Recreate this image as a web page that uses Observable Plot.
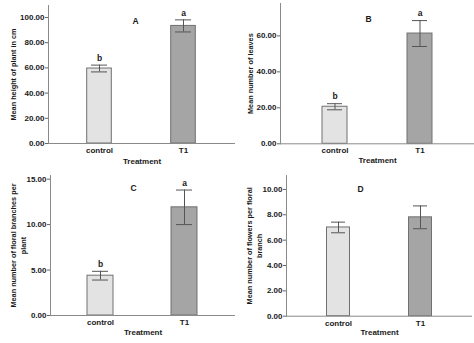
<!DOCTYPE html>
<html>
<head>
<meta charset="utf-8">
<script src="https://cdn.jsdelivr.net/npm/d3@7"></script>
<script src="https://cdn.jsdelivr.net/npm/@observablehq/plot@0.6"></script>
<style>
  body { margin: 0; background: #fff; }
  #wrap { position: relative; width: 474px; height: 343px; background: #fff; overflow: hidden; }
  .panel { position: absolute; }
  .sep { position: absolute; left: 238px; top: 172px; width: 236px; height: 0; border-top: 1px solid #d4d4d4; }
</style>
</head>
<body>
<div id="wrap"><div class="sep"></div></div>
<script>
// ---- data ----
const categories = ["control", "T1"];

const heightMean = [59.5, 93.3];
const heightSE = [2.7, 4.8];
const heightLetters = ["b", "a"];
const heightTicks = [0, 20, 40, 60, 80, 100];

const leavesMean = [20.6, 61.3];
const leavesSE = [1.7, 7.2];
const leavesLetters = ["b", "a"];
const leavesTicks = [0, 20, 40, 60];

const branchesMean = [4.38, 11.9];
const branchesSE = [0.48, 1.9];
const branchesLetters = ["b", "a"];
const branchesTicks = [0, 5, 10, 15];

const flowersMean = [7.0, 7.8];
const flowersSE = [0.42, 0.9];
const flowersLetters = ["", ""];
const flowersTicks = [0, 2, 4, 6, 8, 10];

const fills = ["#e3e3e3", "#a5a5a5"];

function panel(cfg) {
  const data = categories.map((c, i) => ({
    cat: c, mean: cfg.mean[i], lo: cfg.mean[i] - cfg.se[i], hi: cfg.mean[i] + cfg.se[i],
    letter: cfg.letters[i], fill: fills[i]
  }));
  const plot = Plot.plot({
    width: cfg.width, height: cfg.height,
    marginLeft: cfg.ml, marginRight: cfg.mr, marginTop: cfg.mt, marginBottom: cfg.mb,
    style: { fontFamily: "'Liberation Sans', Arial, sans-serif", fontSize: "8px", fontWeight: "bold", color: "#1a1a1a", background: "#fff" },
    x: { domain: categories, padding: cfg.pad, label: null },
    y: { domain: [0, cfg.max], label: null },
    marks: [
      Plot.barY(data, { x: "cat", y: "mean", fill: "fill", stroke: "#707070", strokeWidth: 1, insetLeft: cfg.inset, insetRight: cfg.inset }),
      Plot.ruleX(data, { x: "cat", y1: "lo", y2: "hi", stroke: "#555", strokeWidth: 1 }),
      Plot.tickY(data, { x: "cat", y: "lo", stroke: "#555", strokeWidth: 1, insetLeft: cfg.cap, insetRight: cfg.cap }),
      Plot.tickY(data, { x: "cat", y: "hi", stroke: "#555", strokeWidth: 1, insetLeft: cfg.cap, insetRight: cfg.cap }),
      Plot.text(data, { x: "cat", y: "hi", text: "letter", dy: -7, fontSize: 8.5, fontWeight: "bold", fill: "#1a1a1a" }),
      Plot.ruleY([0], { stroke: "#8a8a8a" }),
      Plot.frame({ anchor: "left", stroke: "#8a8a8a" }),
      Plot.axisY({ ticks: cfg.ticks, tickFormat: d3.format(".2f"), tickSize: 3, tickPadding: 1, stroke: "#666", fill: "#1a1a1a" }),
      Plot.axisX({ tickSize: 0, tickPadding: 4, fill: "#1a1a1a", label: null }),
      Plot.text([cfg.panelLabel], { frameAnchor: "top", dx: cfg.pdx, dy: cfg.pdy, fontSize: 8.5, fontWeight: "bold", fill: "#1a1a1a" }),
      Plot.text(["Treatment"], { frameAnchor: "bottom", dy: cfg.tdy, fontSize: 8, fontWeight: "bold", fill: "#1a1a1a" }),
      Plot.text([cfg.ylabel], { frameAnchor: "left", textAnchor: "middle", lineAnchor: "middle", rotate: -90, dx: cfg.ydx, fontSize: 7.3, fontWeight: "bold", fill: "#1a1a1a", lineHeight: 1.35 })
    ]
  });
  const div = document.createElement("div");
  div.className = "panel";
  div.style.left = cfg.left + "px";
  div.style.top = cfg.top + "px";
  div.appendChild(plot);
  document.getElementById("wrap").appendChild(div);
}

panel({ left: 0, top: 0, width: 237, height: 170, ml: 48, mr: 2, mt: 5, mb: 27, max: 109.5, pad: 0.213, inset: 20.7, cap: 25,
  mean: heightMean, se: heightSE, letters: heightLetters, ticks: heightTicks, panelLabel: "A", pdx: -6.5, pdy: 12, tdy: 20,
  ylabel: "Mean height of plant in cm", ydx: -36 });

panel({ left: 237, top: 0, width: 237, height: 172, ml: 43, mr: 0, mt: 3, mb: 28.7, max: 78, pad: 0.256, inset: 19, cap: 24,
  mean: leavesMean, se: leavesSE, letters: leavesLetters, ticks: leavesTicks, panelLabel: "B", pdx: -9, pdy: 12, tdy: 19.5,
  ylabel: "Mean number of leaves", ydx: -31 });

panel({ left: 0, top: 170, width: 237, height: 173, ml: 50, mr: 2, mt: 5, mb: 28, max: 15.4, pad: 0.19, inset: 21, cap: 26,
  mean: branchesMean, se: branchesSE, letters: branchesLetters, ticks: branchesTicks, panelLabel: "C", pdx: -9.5, pdy: 9, tdy: 19,
  ylabel: "Mean number of floral branches per\nplant", ydx: -33 });

panel({ left: 237, top: 170, width: 237, height: 173, ml: 49, mr: 2, mt: 5, mb: 27.3, max: 11.1, pad: 0.268, inset: 18.5, cap: 23,
  mean: flowersMean, se: flowersSE, letters: flowersLetters, ticks: flowersTicks, panelLabel: "D", pdx: -19, pdy: 10, tdy: 18.7,
  ylabel: "Mean number of flowers per floral\nbranch", ydx: -32.5 });
</script>
</body>
</html>
